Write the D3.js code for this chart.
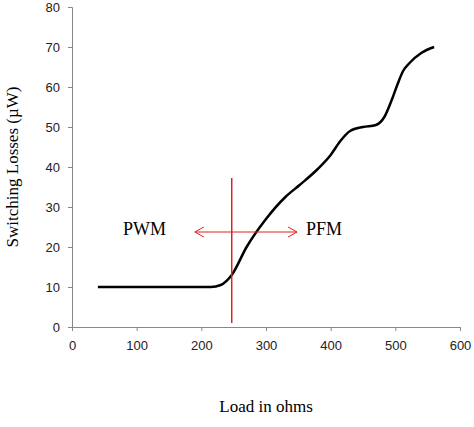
<!DOCTYPE html>
<html><head><meta charset="utf-8">
<script src="https://cdn.jsdelivr.net/npm/d3@7"></script>
<style>body{margin:0;background:#fff}text{font-family:"Liberation Serif","Times New Roman",serif}</style>
</head><body><svg id="c" width="474" height="427"></svg>
<script>
const loadOhms=[40,100,150,200,215,230,247,270,300,330,352,380,400,415,430,450,470,483,495,503,512,522,540,560];
const lossesUW=[10,10,10,10,10,10.5,13,20,27,32.5,35.5,39.5,43,46.5,49,50,50.5,52.5,57,60.5,64,66,68.5,70];
const xTicks=[0,100,200,300,400,500,600];
const yTicks=[0,10,20,30,40,50,60,70,80];
const dividerOhms=[247];
const arrowRange=[190,348];

const svg=d3.select("#c");
const x=d3.scaleLinear().domain([0,600]).range([72,460]);
const y=d3.scaleLinear().domain([0,80]).range([327,7]);
const gx=svg.append("g").attr("transform","translate(0,327)").call(d3.axisBottom(x).tickValues(xTicks).tickSize(4).tickPadding(10));
const gy=svg.append("g").attr("transform","translate(72,0)").call(d3.axisLeft(y).tickValues(yTicks).tickSize(4).tickPadding(8));
[gx,gy].forEach(g=>{g.selectAll("text").attr("font-size",13).attr("fill","#222").style("font-family","Liberation Sans, Arial, sans-serif");g.selectAll("line,path").attr("stroke","#888");});
svg.append("text").attr("x",x(300)).attr("y",412).attr("text-anchor","middle").attr("font-size",17).text("Load in ohms");
svg.append("text").attr("transform","translate(18,"+y(40)+") rotate(-90)").attr("text-anchor","middle").attr("font-size",17).text("Switching Losses (µW)");
svg.append("path").datum(loadOhms.map((d,i)=>[d,lossesUW[i]])).attr("fill","none").attr("stroke","#000").attr("stroke-width",2.5)
 .attr("d",d3.line().x(d=>x(d[0])).y(d=>y(d[1])).curve(d3.curveMonotoneX));
svg.append("line").attr("x1",x(dividerOhms[0])).attr("x2",x(dividerOhms[0])).attr("y1",178).attr("y2",323).attr("stroke","#e02020").attr("stroke-width",1.5);
const ay=232, a0=x(arrowRange[0]), a1=x(arrowRange[1]);
svg.append("line").attr("x1",a0).attr("x2",a1).attr("y1",ay).attr("y2",ay).attr("stroke","#e02020").attr("stroke-width",1);
svg.append("path").attr("d",`M${a0+9},${ay-5}L${a0},${ay}L${a0+9},${ay+5}M${a1-9},${ay-5}L${a1},${ay}L${a1-9},${ay+5}`).attr("fill","none").attr("stroke","#e02020").attr("stroke-width",1);
svg.append("text").attr("x",123).attr("y",235).attr("font-size",18).text("PWM");
svg.append("text").attr("x",306).attr("y",235).attr("font-size",18).text("PFM");
</script></body></html>
